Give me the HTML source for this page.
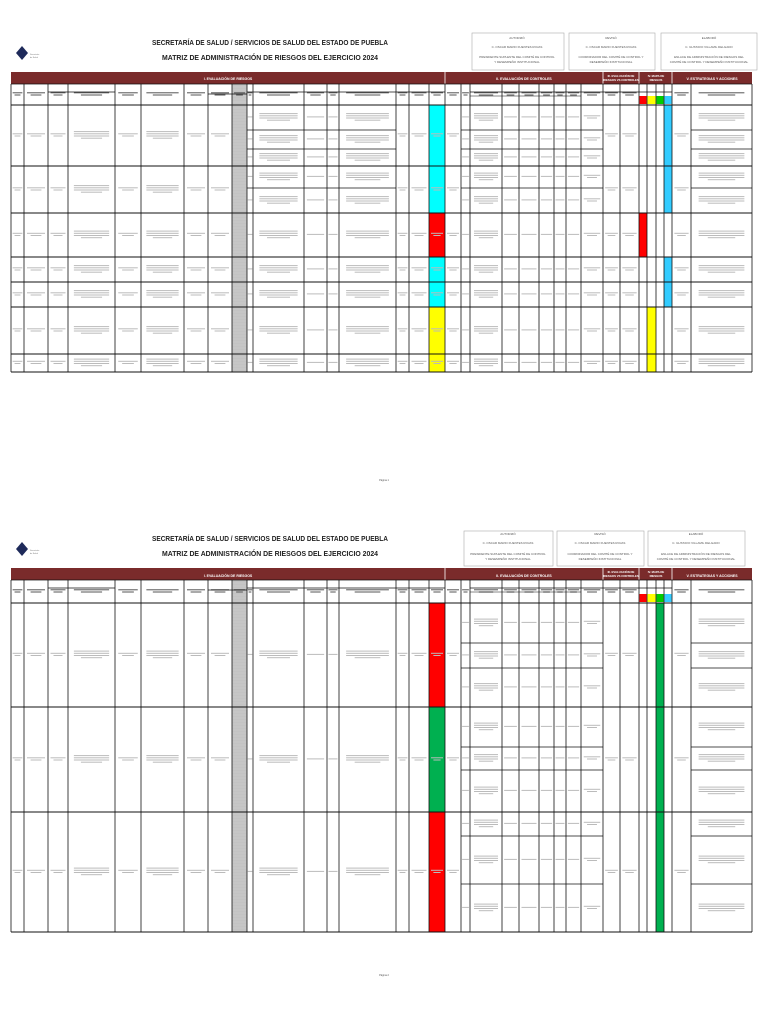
<!DOCTYPE html>
<html><head><meta charset="utf-8">
<style>
html,body{margin:0;padding:0;background:#fff;}
svg{display:block;font-family:"Liberation Sans",sans-serif;}
</style></head>
<body>
<svg id="s" width="768" height="1024" viewBox="0 0 768 1024" xmlns="http://www.w3.org/2000/svg">
<rect width="768" height="1024" fill="#fff"/>
<g id="g"></g>
<!-- Page 1 static text -->
<g font-weight="bold" fill="#222">
<text x="270" y="45" font-size="7.5" text-anchor="middle" textLength="236" lengthAdjust="spacingAndGlyphs">SECRETARÍA DE SALUD  / SERVICIOS DE SALUD DEL ESTADO DE PUEBLA</text>
<text x="270" y="60" font-size="7.5" text-anchor="middle" textLength="216" lengthAdjust="spacingAndGlyphs">MATRIZ DE ADMINISTRACIÓN DE RIESGOS DEL EJERCICIO 2024</text>
<text x="270" y="541" font-size="7.5" text-anchor="middle" textLength="236" lengthAdjust="spacingAndGlyphs">SECRETARÍA DE SALUD  / SERVICIOS DE SALUD DEL ESTADO DE PUEBLA</text>
<text x="270" y="556" font-size="7.5" text-anchor="middle" textLength="216" lengthAdjust="spacingAndGlyphs">MATRIZ DE ADMINISTRACIÓN DE RIESGOS DEL EJERCICIO 2024</text>
</g>
<g fill="#fff" font-weight="bold" font-size="3.5" text-anchor="middle">
<text x="228" y="80">I. EVALUACIÓN DE RIESGOS</text>
<text x="524" y="80">II. EVALUACIÓN DE CONTROLES</text>
<text x="621" y="77" font-size="2.8">III. EVALUACIÓN DE</text>
<text x="621" y="81" font-size="2.8">RIESGOS VS CONTROLES</text>
<text x="656" y="77" font-size="2.8">IV. MAPA DE</text>
<text x="656" y="81" font-size="2.8">RIESGOS</text>
<text x="712" y="80">V. ESTRATEGIAS Y ACCIONES</text>
<text x="228" y="577">I. EVALUACIÓN DE RIESGOS</text>
<text x="524" y="577">II. EVALUACIÓN DE CONTROLES</text>
<text x="621" y="573" font-size="2.8">III. EVALUACIÓN DE</text>
<text x="621" y="577" font-size="2.8">RIESGOS VS CONTROLES</text>
<text x="656" y="573" font-size="2.8">IV. MAPA DE</text>
<text x="656" y="577" font-size="2.8">RIESGOS</text>
<text x="712" y="577">V. ESTRATEGIAS Y ACCIONES</text>
</g>
<g fill="#555" font-size="3" text-anchor="middle">
<text x="517" y="39">AUTORIZÓ</text><text x="517" y="48">C. OSCAR MARIO FUENTES ROJAS</text>
<text x="517" y="58">PRESIDENTE SUPLENTE DEL COMITÉ DE CONTROL</text><text x="517" y="63">Y DESEMPEÑO INSTITUCIONAL</text>
<text x="611" y="39">REVISÓ</text><text x="611" y="48">C. OSCAR MARIO FUENTES ROJAS</text>
<text x="611" y="58">COORDINADOR DEL COMITÉ DE CONTROL Y</text><text x="611" y="63">DESEMPEÑO INSTITUCIONAL</text>
<text x="709" y="39">ELABORÓ</text><text x="709" y="48">C. GUSTAVO VILLAMIL DELGADO</text>
<text x="709" y="58">ENLACE DE ADMINISTRACIÓN DE RIESGOS DEL</text><text x="709" y="63">COMITÉ DE CONTROL Y DESEMPEÑO INSTITUCIONAL</text>
<text x="508" y="535">AUTORIZÓ</text><text x="508" y="544">C. OSCAR MARIO FUENTES ROJAS</text>
<text x="508" y="555">PRESIDENTE SUPLENTE DEL COMITÉ DE CONTROL</text><text x="508" y="560">Y DESEMPEÑO INSTITUCIONAL</text>
<text x="600" y="535">REVISÓ</text><text x="600" y="544">C. OSCAR MARIO FUENTES ROJAS</text>
<text x="600" y="555">COORDINADOR DEL COMITÉ DE CONTROL Y</text><text x="600" y="560">DESEMPEÑO INSTITUCIONAL</text>
<text x="696" y="535">ELABORÓ</text><text x="696" y="544">C. GUSTAVO VILLAMIL DELGADO</text>
<text x="696" y="555">ENLACE DE ADMINISTRACIÓN DE RIESGOS DEL</text><text x="696" y="560">COMITÉ DE CONTROL Y DESEMPEÑO INSTITUCIONAL</text>
<text x="384" y="481" font-size="2.5">Página 1</text>
<text x="384" y="976" font-size="2.5">Página 2</text>
</g>
<g fill="#777" font-size="2">
<text x="30" y="55">Secretaría</text><text x="30" y="58">de Salud</text>
<text x="30" y="551">Secretaría</text><text x="30" y="554">de Salud</text>
</g>
</svg>
<script>
var NS="http://www.w3.org/2000/svg",G=document.getElementById('g');
function el(t,a){var e=document.createElementNS(NS,t);for(var k in a)e.setAttribute(k,a[k]);G.appendChild(e);return e;}
function R(x,y,w,h,f,s){return el('rect',{x:x,y:y,width:w,height:h,fill:f||'none',stroke:s||'none','stroke-width':0.6});}
function L(x1,y1,x2,y2,c,w){el('line',{x1:x1,y1:y1,x2:x2,y2:y2,stroke:c||'#111','stroke-width':w||0.8});}
var X=[11,24,48,68,115,141,184,208,232,247,253,304,327,339,396,409,429,445,461,470,502,519,539,554,566,581,603,620,639,647,656,664,672,691,752];
function txt(x1,x2,y1,y2,n,c){var cx=(x1+x2)/2,w=(x2-x1)*0.75;var h=n*2.2;var y=(y1+y2)/2-h/2;
 for(var i=0;i<n;i++){var ww=w*(i==n-1&&n>1?0.6:1);R(cx-ww/2,y+i*2.2,ww,1,c||'#bbb');}}
function logo(y){el('path',{d:'M22 '+y+' L28 '+(y+7)+' L22 '+(y+14)+' L16 '+(y+7)+' Z',fill:'#1e2a5a'});}
function page(bt,hb,rows,subsF,subsC,quad,mapCol,mapColor,boxes,boxY){
 logo(bt-26);
 boxes.forEach(function(b){R(b[0],boxY[0],b[1]-b[0],boxY[1]-boxY[0],'none','#aaa');});
 // band
 R(11,bt,741,12,'#7a2b2b');
 [445,603,639,672].forEach(function(x){L(x,bt,x,bt+12,'#fff',0.8);});
 var ht=bt+12,bot=rows[rows.length-1];
 // gray column
 R(232,ht,15,bot-ht,'#c9c9c9');
 for(var yy=ht;yy<bot;yy+=1.5)L(232,yy,247,yy,'#b5b5b5',0.3);
 // quadrant colors
 for(var i=0;i<quad.length;i++){R(429,rows[i],16,rows[i+1]-rows[i],quad[i]);
   if(mapCol[i]!=null)R(X[28+mapCol[i]],rows[i],X[29+mapCol[i]]-X[28+mapCol[i]],rows[i+1]-rows[i],mapColor[i]);}
 // legend
 var lc=['#ff0000','#ffff00','#00cc00','#33ccff'];
 for(var k=0;k<4;k++)R(X[28+k]+0.5,hb-9,X[29+k]-X[28+k]-1,8,lc[k]);
 // header text
 for(var j=0;j<X.length-1;j++){if(j>=28&&j<=31)continue;txt(X[j],X[j+1],ht,hb,2,'#555');}
 L(48,ht+8,115,ht+8);L(208,ht+10,247,ht+10);L(247,ht+8,396,ht+8);L(396,ht+8,445,ht+8);
 L(470,ht+8,603,ht+8);L(470,ht+12,581,ht+12,'#111',0.5);L(603,ht+8,639,ht+8);L(639,ht+8,672,ht+8);
 // grid verticals
 X.forEach(function(x){L(x,ht,x,bot);});
 // horizontals
 L(11,ht,752,ht);rows.forEach(function(y){L(11,y,752,y,'#111',1);});
 subsF.forEach(function(y){L(247,y,396,y);});
 subsC.forEach(function(y){L(461,y,603,y);L(691,y,752,y);});
 // body text blobs
 for(var i=0;i<rows.length-1;i++){var a=rows[i],b=rows[i+1];
  var full=[0,1,2,3,4,5,6,7,14,15,16,17,26,27,32];
  full.forEach(function(j){var n=(X[j+1]-X[j])>30?4:2;txt(X[j],X[j+1],a,b,n);});
  var fs=[a].concat(subsF.filter(function(y){return y>a&&y<b;})).concat([b]);
  for(var s=0;s<fs.length-1;s++)[9,10,11,12,13].forEach(function(j){txt(X[j],X[j+1],fs[s],fs[s+1],j==10||j==13?4:1);});
  var cs=[a].concat(subsC.filter(function(y){return y>a&&y<b;})).concat([b]);
  for(var s=0;s<cs.length-1;s++)[18,19,20,21,22,23,24,25,33].forEach(function(j){txt(X[j],X[j+1],cs[s],cs[s+1],j==19||j==33?4:(j==25?2:1));});
 }
}
page(72,105,[105,166,213,257,282,307,354,372],[130,149,188],[130,149,188],
 ['#00ffff','#00ffff','#ff0000','#00ffff','#00ffff','#ffff00','#ffff00'],
 [3,3,0,3,3,1,1],['#33ccff','#33ccff','#ff0000','#33ccff','#33ccff','#ffff00','#ffff00'],
 [[472,564],[569,655],[661,757]],[33,70]);
page(568,603,[603,707,812,932],[],[643,668,747,770,836,884],
 ['#ff0000','#00b050','#ff0000'],[2,2,2],['#00b050','#00b050','#00b050'],
 [[464,553],[557,644],[648,745]],[531,566]);
</script>
</body></html>
